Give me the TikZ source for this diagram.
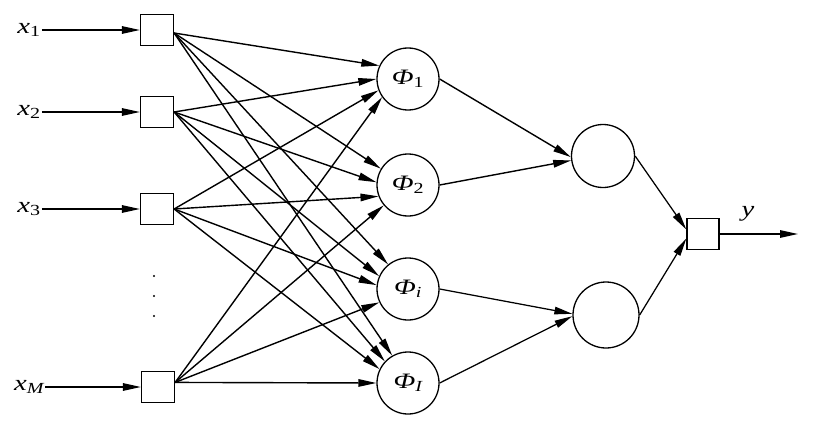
\documentclass[tikz,border=0pt]{standalone}
\usepackage{fontspec}
\setmainfont{Liberation Serif}[FakeStretch=1.3]
\usetikzlibrary{arrows.meta}
\newcommand{\usub}[1]{\textsubscript{\upshape #1}}
\newcommand{\isub}[1]{\textsubscript{\itshape #1}}
\begin{document}
\begin{tikzpicture}[x=1pt,y=-1pt,
  every node/.style={font=\fontsize{22}{26}\selectfont\itshape},
  inbox/.style={draw,line width=1.3pt,minimum width=33pt,minimum height=31pt,inner sep=0pt},
  phinode/.style={draw,circle,line width=1.3pt,minimum size=62pt,inner sep=0pt},
  hidnode/.style={draw,circle,line width=1.3pt,inner sep=0pt},
  lbl/.style={inner sep=1pt},
  conn/.style={line width=1.4pt,-{Triangle[length=18pt,width=7.5pt]}},
  thin conn/.style={line width=1.25pt,-{Triangle[length=18pt,width=7.5pt]}}
]
\useasboundingbox (0,0) rectangle (826,425);
% input labels
\node[lbl] (x1) at (29,30) {x\usub{1}};
\node[lbl] (x2) at (29,112) {x\usub{2}};
\node[lbl] (x3) at (29,209) {x\usub{3}};
\node[lbl] (xM) at (29,387) {x\isub{M}};
% input boxes
\node[inbox] (b1) at (157,30) {};
\node[inbox] (b2) at (157,112) {};
\node[inbox] (b3) at (157,209) {};
\node[inbox] (bM) at (158,387) {};
% dots
\fill (154,276) circle (1.1);
\fill (154,296) circle (1.1);
\fill (154,316) circle (1.1);
% phi nodes
\node[phinode] (p1) at (408,79) {Φ\usub{1}};
\node[phinode] (p2) at (408,185) {Φ\usub{2}};
\node[phinode] (pi) at (408,289) {Φ\isub{i}};
\node[phinode] (pI) at (408,383) {Φ\isub{I}};
% hidden nodes
\node[hidnode,minimum size=63pt] (a) at (603,156) {};
\node[hidnode,minimum size=66pt] (b) at (606,315) {};
% output box
\node[inbox,minimum width=32pt] (out) at (703,234) {};
\coordinate (yend) at (798,234);
\node[lbl] (ylab) at (748,214) {y};
% input arrows
\draw[conn] (x1) -- (b1);
\draw[conn] (x2) -- (b2);
\draw[conn] (x3) -- (b3);
\draw[conn] (xM) -- (bM);
% box to phi
\draw[conn] (b1.350) -- (p1.155);
\draw[conn] (b1.350) -- (p2.149);
\draw[conn] (b1.350) -- (pi.129);
\draw[conn] (b1.350) -- (pI.120);
\draw[conn] (b2.east) -- (p1.180);
\draw[conn] (b2.east) -- (p2.175);
\draw[conn] (b2.east) -- (pi.156);
\draw[conn] (b2.east) -- (pI.137);
\draw[conn] (b3.east) -- (p1.201);
\draw[conn] (b3.east) -- (p2.201);
\draw[conn] (b3.east) -- (pi.173);
\draw[conn] (b3.east) -- (pI.154);
\draw[conn] (bM.15) -- (p1.215);
\draw[conn] (bM.15) -- (p2.220);
\draw[conn] (bM.15) -- (pi.205);
\draw[conn] (bM.15) -- (pI.180);
% phi to hidden
\draw[conn] (p1.east) -- (a.182);
\draw[conn] (p2.east) -- (a.188);
\draw[thin conn] (pi.east) -- (b.178);
\draw[thin conn] (pI.east) -- (b.182);
% hidden to output
\draw[thin conn] (a.east) -- (out.165);
\draw[thin conn] (b.east) -- (out.195);
\draw[conn] (out.east) -- (yend);
\end{tikzpicture}
\end{document}
